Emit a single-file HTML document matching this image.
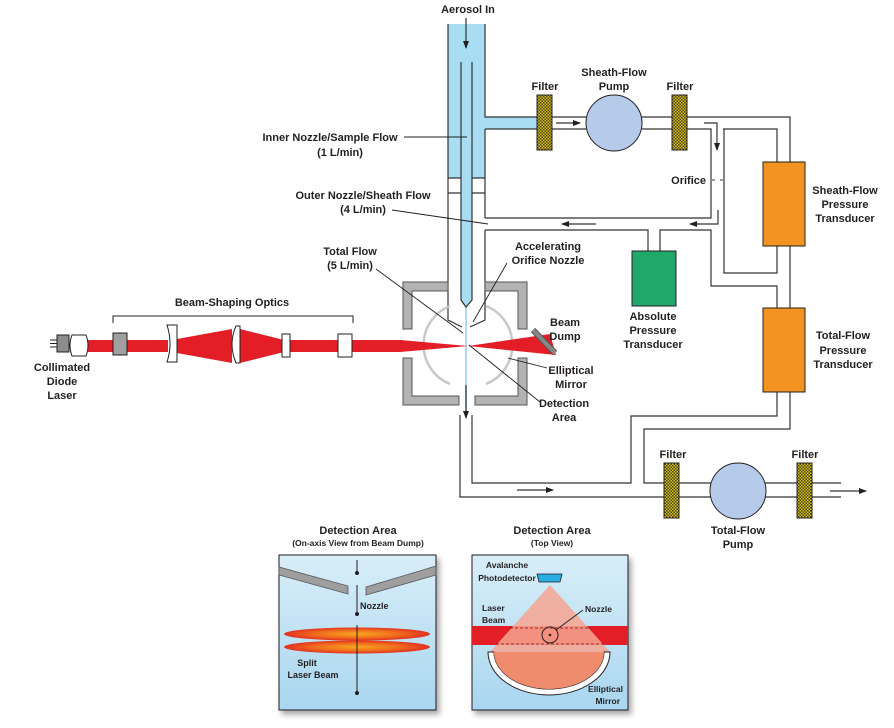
<!DOCTYPE html>
<html><head><meta charset="utf-8"><style>
html,body{margin:0;padding:0;background:#fff;}
svg{display:block;}
text{font-family:"Liberation Sans",Arial,sans-serif;font-weight:bold;fill:#231f20;font-size:11px;}
</style></head><body>
<svg width="894" height="728" viewBox="0 0 894 728" xmlns="http://www.w3.org/2000/svg">
<defs>
<pattern id="chk" width="3" height="3" patternUnits="userSpaceOnUse">
<rect width="3" height="3" fill="#d8c21c"/><rect width="1.5" height="1.5" fill="#4a4212"/><rect x="1.5" y="1.5" width="1.5" height="1.5" fill="#4a4212"/>
</pattern>
<marker id="ah" markerWidth="8" markerHeight="6" refX="7" refY="3" orient="auto" markerUnits="userSpaceOnUse"><path d="M0,0 L8,3 L0,6 z" fill="#231f20"/></marker>
<linearGradient id="bg" x1="0" y1="0" x2="0" y2="1"><stop offset="0" stop-color="#d8eef9"/><stop offset="1" stop-color="#a9d6ef"/></linearGradient>
<radialGradient id="og" cx="0.5" cy="0.5" r="0.5"><stop offset="0" stop-color="#f7a81e"/><stop offset="0.6" stop-color="#ef6a1e"/><stop offset="1" stop-color="#e2301e"/></radialGradient>
<filter id="sh" x="-10%" y="-10%" width="130%" height="130%"><feDropShadow dx="3" dy="4" stdDeviation="3" flood-opacity="0.35"/></filter>
</defs>

<g stroke="#333" stroke-width="1.2" fill="none">
<rect x="448" y="24" width="37" height="154" fill="#a9ddf3" stroke="none"/>
<rect x="485" y="117" width="52" height="12" fill="#a9ddf3" stroke="none"/>
<rect x="461" y="178" width="11" height="122" fill="#a9ddf3" stroke="none"/>
<path d="M461,300 L466,307 L472,300 z" fill="#a9ddf3" stroke="none"/>
<line x1="466" y1="307" x2="466" y2="415" stroke="#a9ddf3" stroke-width="2"/>
<path d="M448,24 V320 L462,327"/>
<path d="M485,24 V117 H537 M485,129 H537 M485,129 V218 M485,230 V320 L470,327"/>
<path d="M461,62 V300 L466,307 L472,300 V62"/>
<path d="M448,178 H461 M472,178 H485 M448,193 H461 M472,193 H485"/>
<line x1="466" y1="18" x2="466" y2="48" marker-end="url(#ah)"/>
<path d="M552,117 H586 M642,117 H672 M552,129 H586 M642,129 H672"/>
<path d="M687,117 H790 V162 M687,129 H711 V218 H485"/>
<path d="M723,129 H777 V162 M777,246 V273 H724 V129"/>
<path d="M485,230 H648 V251 M660,251 V230 H711 V286 H777 V308 M790,246 V308"/>
<line x1="556" y1="123" x2="580" y2="123" marker-end="url(#ah)"/>
<path d="M704,123 H717 V150" marker-end="url(#ah)"/>
<path d="M718,210 V224 H690" marker-end="url(#ah)"/>
<line x1="596" y1="224" x2="562" y2="224" marker-end="url(#ah)"/>
<path d="M712,180 H715 M720,180 H723" stroke-width="1"/>
<path d="M777,392 V416 H631 V483 H472 V415 M790,392 V429 H644 V483 H664 M460,415 V497 H664"/>
<path d="M679,483 H712 M679,497 H712 M764,483 H797 M764,497 H797 M812,483 H841 M812,497 H841"/>
<line x1="517" y1="490" x2="553" y2="490" marker-end="url(#ah)"/>
<line x1="830" y1="491" x2="866" y2="491" marker-end="url(#ah)"/>
<line x1="466" y1="385" x2="466" y2="418" marker-end="url(#ah)"/>
</g>
<g stroke="#231f20" stroke-width="1">
<rect x="537" y="95" width="15" height="55" fill="url(#chk)"/>
<rect x="672" y="95" width="15" height="55" fill="url(#chk)"/>
<rect x="664" y="463" width="15" height="55" fill="url(#chk)"/>
<rect x="797" y="463" width="15" height="55" fill="url(#chk)"/>
<circle cx="614" cy="123" r="28" fill="#b5cbe9"/>
<circle cx="738" cy="491" r="28" fill="#b5cbe9"/>
<rect x="763" y="162" width="42" height="84" fill="#f39321"/>
<rect x="763" y="308" width="42" height="84" fill="#f39321"/>
<rect x="632" y="251" width="44" height="55" fill="#20a86a"/>
</g>
<g fill="#b3b3b3" stroke="#555" stroke-width="1">
<path d="M403,282 H448 V291 H412 V329 H403 z"/>
<path d="M485,282 H527 V329 H518 V291 H485 z"/>
<path d="M403,358 H412 V396 H459 V405 H403 z"/>
<path d="M475,396 H518 V358 H527 V405 H475 z"/>
</g>
<g fill="none" stroke="#c8c8c8" stroke-width="2.5">
<path d="M450,306 A42,42 0 0 0 450,384"/>
<path d="M486,306 A42,42 0 0 1 486,384"/>
</g>
<g fill="#e31e26">
<rect x="88" y="340" width="80" height="12"/>
<path d="M177,339 L232,329 L232,363 L177,353 z"/>
<path d="M240,329 L284,340 L284,352 L240,363 z"/>
<rect x="290" y="340" width="50" height="12"/>
<path d="M352,340 L400,340 L468,346 L400,352 L352,352 z"/>
<path d="M468,346 L550,334 L556,355 z"/>
</g>
<g stroke="#231f20" stroke-width="1">
<rect x="57" y="335" width="12" height="17" fill="#8c8c8c"/>
<path d="M50,340 H57 M50,343.5 H57 M50,347 H57"/>
<path d="M72,335 H86 Q90,345 86,356 H72 Q68,345 72,335 z" fill="#fff"/>
<rect x="113" y="333" width="14" height="22" fill="#a0a0a0"/>
<path d="M167,325 H177 V362 H167 Q173,344 167,325 z" fill="#fff"/>
<path d="M236,326 Q228,344 236,363 H240 V326 z" fill="#fff"/>
<rect x="282" y="334" width="8" height="23" fill="#fff"/>
<rect x="338" y="334" width="14" height="23" fill="#fff"/>
<path d="M113,323 V316 H353 V323" fill="none"/>
<line x1="533" y1="330" x2="555" y2="353" stroke="#555" stroke-width="6"/>
<line x1="533" y1="330" x2="555" y2="353" stroke="#888" stroke-width="4"/>
</g>
<g stroke="#231f20" stroke-width="0.9" fill="none">
<line x1="404" y1="137" x2="467" y2="137"/>
<line x1="392" y1="210" x2="488" y2="224"/>
<line x1="376" y1="269" x2="463" y2="333"/>
<line x1="507" y1="263" x2="473" y2="322"/>
<line x1="469" y1="345" x2="540" y2="402"/>
<line x1="508" y1="358" x2="547" y2="368"/>
</g>
<g text-anchor="middle">
<text x="468" y="13">Aerosol In</text>
<text x="545" y="90">Filter</text>
<text x="614" y="76">Sheath-Flow</text><text x="614" y="90">Pump</text>
<text x="680" y="90">Filter</text>
<text x="673" y="458">Filter</text>
<text x="805" y="458">Filter</text>
<text x="738" y="534">Total-Flow</text><text x="738" y="548">Pump</text>
<text x="845" y="194">Sheath-Flow</text><text x="845" y="208">Pressure</text><text x="845" y="222">Transducer</text>
<text x="843" y="339">Total-Flow</text><text x="843" y="354">Pressure</text><text x="843" y="368">Transducer</text>
<text x="653" y="320">Absolute</text><text x="653" y="334">Pressure</text><text x="653" y="348">Transducer</text>
<text x="330" y="141">Inner Nozzle/Sample Flow</text><text x="340" y="156">(1 L/min)</text>
<text x="363" y="199">Outer Nozzle/Sheath Flow</text><text x="363" y="213">(4 L/min)</text>
<text x="350" y="255">Total Flow</text><text x="350" y="269">(5 L/min)</text>
<text x="548" y="250">Accelerating</text><text x="548" y="264">Orifice Nozzle</text>
<text x="565" y="326">Beam</text><text x="565" y="340">Dump</text>
<text x="571" y="374">Elliptical</text><text x="571" y="388">Mirror</text>
<text x="564" y="407">Detection</text><text x="564" y="421">Area</text>
<text x="232" y="306">Beam-Shaping Optics</text>
<text x="62" y="371">Collimated</text><text x="62" y="385">Diode</text><text x="62" y="399">Laser</text>
<text x="358" y="534">Detection Area</text>
<text x="358" y="546" style="font-size:8.5px">(On-axis View from Beam Dump)</text>
<text x="552" y="534">Detection Area</text>
<text x="552" y="546" style="font-size:8.5px">(Top View)</text>
<text x="706" y="184" text-anchor="end">Orifice</text>
</g>
<rect x="279" y="555" width="157" height="155" fill="url(#bg)" stroke="#231f20" stroke-width="1" filter="url(#sh)"/>
<g fill="#9e9e9e" stroke="#555" stroke-width="0.8">
<path d="M279,567 L348,586 L348,594 L279,575 z"/>
<path d="M366,587 L436,566 L436,575 L366,595 z"/>
</g>
<ellipse cx="357" cy="634" rx="73" ry="6.5" fill="url(#og)"/>
<ellipse cx="357" cy="647" rx="73" ry="6.5" fill="url(#og)"/>
<g stroke="#231f20" stroke-width="1" fill="#231f20">
<line x1="357" y1="560" x2="357" y2="573"/><circle cx="357" cy="573" r="1.5"/>
<line x1="357" y1="585" x2="357" y2="614"/><circle cx="357" cy="614" r="1.5"/>
<line x1="357" y1="625" x2="357" y2="693"/><circle cx="357" cy="693" r="1.5"/>
</g>
<text x="360" y="609" style="font-size:9px">Nozzle</text>
<text x="307" y="666" text-anchor="middle" style="font-size:9px">Split</text>
<text x="313" y="678" text-anchor="middle" style="font-size:9px">Laser Beam</text>
<rect x="472" y="555" width="156" height="155" fill="url(#bg)" stroke="#231f20" stroke-width="1" filter="url(#sh)"/>
<rect x="472" y="626" width="156" height="19" fill="#e31e26"/>
<path d="M550,585 L490,652 L610,652 z" fill="#f6a590" opacity="0.85"/>
<path d="M488,652 A61,43 0 0 0 610,652 L604,652 A55,37 0 0 1 494,652 z" fill="#fff" stroke="#231f20" stroke-width="1"/>
<path d="M494,652 A55,37 0 0 0 604,652 z" fill="#ef8c6e"/>
<g stroke="#7a1010" stroke-width="0.8" stroke-dasharray="3,2"><line x1="510" y1="628" x2="591" y2="628"/><line x1="496" y1="644" x2="604" y2="644"/></g>
<circle cx="550" cy="635" r="8" fill="none" stroke="#231f20" stroke-width="1"/>
<circle cx="550" cy="635" r="1.3" fill="#231f20"/>
<line x1="556" y1="630" x2="583" y2="610" stroke="#231f20" stroke-width="0.9"/>
<path d="M537,574 H562 L560,582 H539 z" fill="#29aee3" stroke="#231f20" stroke-width="0.8"/>
<text x="507" y="568" text-anchor="middle" style="font-size:8.5px">Avalanche</text>
<text x="507" y="581" text-anchor="middle" style="font-size:8.5px">Photodetector</text>
<text x="585" y="612" style="font-size:8.5px">Nozzle</text>
<text x="482" y="611" style="font-size:8.5px">Laser</text>
<text x="482" y="623" style="font-size:8.5px">Beam</text>
<text x="623" y="692" text-anchor="end" style="font-size:8.5px">Elliptical</text>
<text x="620" y="704" text-anchor="end" style="font-size:8.5px">Mirror</text>
</svg>
</body></html>
